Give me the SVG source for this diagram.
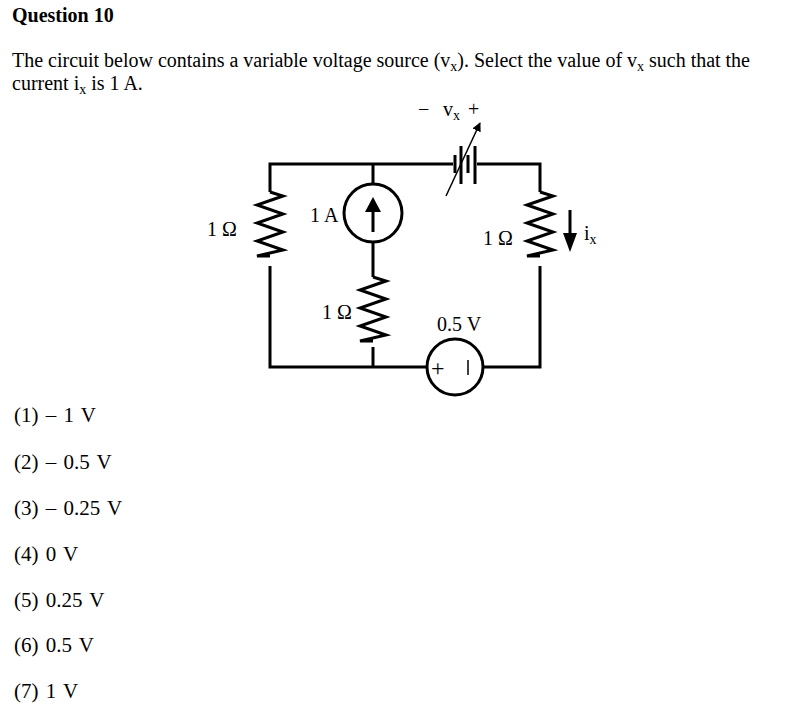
<svg xmlns="http://www.w3.org/2000/svg" width="786" height="721" viewBox="0 0 786 721">
<style>
text{font-family:"Liberation Serif",serif;font-size:20px;fill:#000}
.w{fill:none;stroke:#000;stroke-width:3}
.o{font-size:21px;word-spacing:2px}
</style>
<defs><marker id="ah" viewBox="0 0 10 10" refX="9" refY="5" markerWidth="6" markerHeight="6" orient="auto"><path d="M0,0L10,5L0,10z"/></marker></defs>
<rect width="786" height="721" fill="#fff"/>
<text x="12" y="22" style="font-weight:bold">Question 10</text>
<text x="12" y="67" textLength="738">The circuit below contains a variable voltage source (v<tspan font-size="14" dy="4">x</tspan><tspan dy="-4">). Select the value of v</tspan><tspan font-size="14" dy="4">x</tspan><tspan dy="-4"> such that the</tspan></text>
<text x="12" y="90">current i<tspan font-size="14" dy="4">x</tspan><tspan dy="-4"> is 1 A.</tspan></text>
<g id="connectors">
<path class="w" d="M453,164H270V192M270,266V367H427M483,367H540V266M540,192V164H477M373,164V184M373,242V277M373,347V367"/>
<path class="w" d="M270,192l13,4l-26,9l26,9l-26,9l26,9l-26,9l26,9l-26,6l13,0"/>
<path class="w" d="M540,192l13,4l-26,9l26,9l-26,9l26,9l-26,9l26,9l-26,6l13,0"/>
<path class="w" d="M373,277l13,4l-26,9l26,9l-26,9l26,9l-26,9l26,9l-26,6l13,0"/>
</g>
<g id="battery">
<path class="w" d="M455,155V173M461,146V184M468,155V173M475,146V184"/>
<line x1="446" y1="196" x2="480" y2="123" stroke="#000" stroke-width="1.5" marker-end="url(#ah)"/>
<text x="418" y="116">−</text><text x="443" y="116">v<tspan font-size="14" dy="4">x</tspan></text><text x="468" y="116">+</text>
</g>
<g id="isrc">
<circle cx="373" cy="213" r="29" class="w"/>
<line x1="373" y1="232" x2="373" y2="207" stroke="#000" stroke-width="3"/>
<path d="M365,212L373,197L381,212z"/>
<text x="310" y="222">1 A</text>
</g>
<g id="vsrc">
<circle cx="455" cy="367" r="28" class="w"/>
<text x="431" y="376" style="font-size:24px">+</text>
<line x1="468" y1="360" x2="468" y2="375" stroke="#000" stroke-width="1.5"/>
<text x="437" y="331">0.5 V</text>
</g>
<g id="labels">
<text x="207" y="236">1 Ω</text>
<text x="483" y="245">1 Ω</text>
<text x="322" y="319">1 Ω</text>
<line x1="570" y1="210" x2="570" y2="236" stroke="#000" stroke-width="3"/>
<path d="M563,233L577,233L570,252z"/>
<text x="584" y="240">i<tspan font-size="14" dy="4">x</tspan></text>
</g>
<g id="options">
<text class="o" x="14" y="422">(1) – 1 V</text>
<text class="o" x="14" y="469">(2) – 0.5 V</text>
<text class="o" x="14" y="515">(3) – 0.25 V</text>
<text class="o" x="14" y="561">(4) 0 V</text>
<text class="o" x="14" y="607">(5) 0.25 V</text>
<text class="o" x="14" y="652">(6) 0.5 V</text>
<text class="o" x="14" y="698">(7) 1 V</text>
</g>
</svg>
